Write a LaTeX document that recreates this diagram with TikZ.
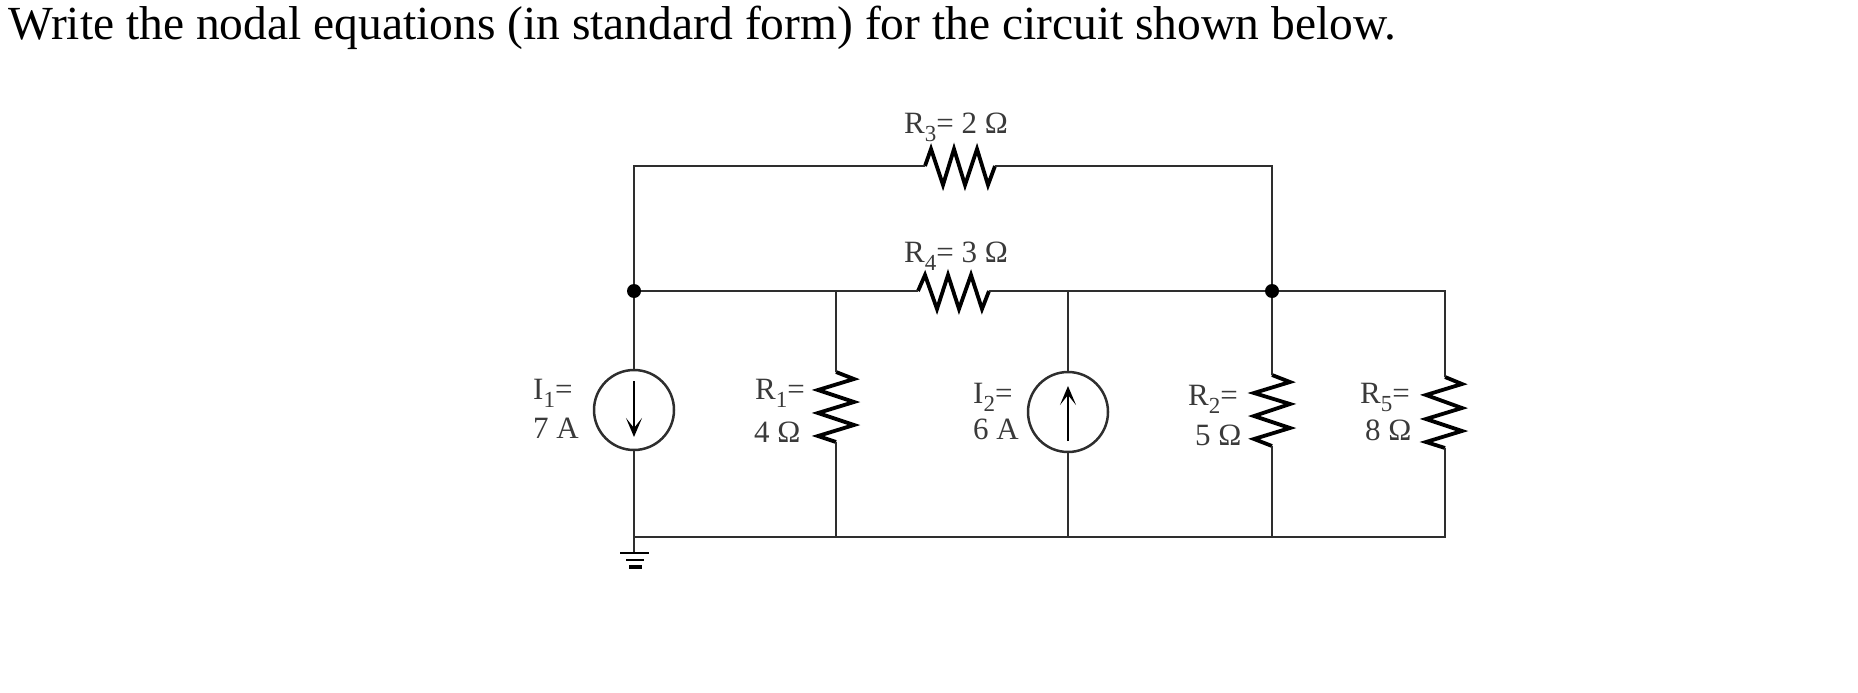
\documentclass[tikz,border=0pt]{standalone}
\usepackage{fontspec}
\setmainfont{Liberation Serif}
\usetikzlibrary{arrows.meta}
\definecolor{wirec}{HTML}{2E2E2E}
\definecolor{labc}{HTML}{3A3A3A}
\tikzset{
  wire/.style={draw=wirec,line width=2.5pt,line join=miter},
  zig/.style={draw=black,line width=3.8pt,line join=miter,miter limit=4},
  src/.style={circle,draw=wirec,line width=2.5pt,minimum size=80pt,inner sep=0pt},
  flow/.style={draw=black,line width=2.5pt,-{Stealth[length=19pt,width=16pt,inset=10pt]}},
  lab/.style={anchor=base west,inner sep=0pt,text=labc,font=\fontsize{31}{31}\selectfont},
  title/.style={anchor=base west,inner sep=0pt,text=black,font=\fontsize{47.5}{47.5}\selectfont},
  dotn/.style={circle,fill=black,inner sep=0pt,minimum size=14pt},
  gbar/.style={draw=black,line width=2.6pt}
}
\newcommand{\sbs}[1]{\raisebox{-0.26em}{\fontsize{23}{23}\selectfont #1}}
\begin{document}
\begin{tikzpicture}[x=1pt,y=-1pt]
\useasboundingbox (0,0) rectangle (1858,693);
\node[title] (ttl) at (8,40) {Write the nodal equations (in standard form) for the circuit shown below.};
% junctions and corners
\coordinate (tl) at (634,166);
\coordinate (tr) at (1272,166);
\node[dotn] (jl) at (634,291) {};
\node[dotn] (jr) at (1272,291) {};
\coordinate (r5t) at (1445,291);
\coordinate (r1t) at (836,291);
\coordinate (i2t) at (1068,291);
\coordinate (bl) at (634,537);
\coordinate (b1) at (836,537);
\coordinate (b2) at (1068,537);
\coordinate (b3) at (1272,537);
\coordinate (b4) at (1445,537);
% sources
\node[src] (s1) at (634,410) {};
\node[src] (s2) at (1068,412) {};
\coordinate (s1a) at (634,381);
\coordinate (s1b) at (634,437);
\coordinate (s2a) at (1068,441);
\coordinate (s2b) at (1068,386);
\draw[flow] (s1a) -- (s1b);
\draw[flow] (s2a) -- (s2b);
% resistor ends
\coordinate (r3a) at (925,166);
\coordinate (r3b) at (995,166);
\coordinate (r4a) at (918,291);
\coordinate (r4b) at (989,291);
\coordinate (r1a) at (836,372);
\coordinate (r1b) at (836,442);
\coordinate (r2a) at (1272,375);
\coordinate (r2b) at (1272,446);
\coordinate (r5a) at (1445,377);
\coordinate (r5b) at (1445,448);
% resistors
\draw[zig] (r3a) -- (931,149) -- (943,185) -- (954,149) -- (965,185) -- (977,149) -- (988,185) -- (r3b);
\draw[zig] (r4a) -- (925,275) -- (937,309) -- (948,275) -- (959,309) -- (971,275) -- (982,309) -- (r4b);
\draw[zig] (r1a) -- (854,379) -- (818,390) -- (854,402) -- (818,413) -- (854,425) -- (818,436) -- (r1b);
\draw[zig] (r2a) -- (1290,382) -- (1254,393) -- (1290,404) -- (1254,416) -- (1290,428) -- (1254,439) -- (r2b);
\draw[zig] (r5a) -- (1462,384) -- (1426,395) -- (1462,408) -- (1426,419) -- (1462,431) -- (1426,442) -- (r5b);
% wires
\draw[wire] (s1.north) -- (jl) -- (tl) -- (r3a);
\draw[wire] (r3b) -- (tr) -- (jr);
\draw[wire] (jl) -- (r4a);
\draw[wire] (r4b) -- (jr) -- (r5t) -- (r5a);
\draw[wire] (r1t) -- (r1a);
\draw[wire] (r1b) -- (b1);
\draw[wire] (i2t) -- (s2.north);
\draw[wire] (s2.south) -- (b2);
\draw[wire] (jr) -- (r2a);
\draw[wire] (r2b) -- (b3);
\draw[wire] (r5b) -- (b4) -- (bl);
\draw[wire] (s1.south) -- (bl);
% ground
\coordinate (g0) at (634,553);
\coordinate (g1a) at (620,553);
\coordinate (g1b) at (649,553);
\coordinate (g2a) at (626,560);
\coordinate (g2b) at (644,560);
\coordinate (g3a) at (629,567);
\coordinate (g3b) at (642,567);
\draw[wire] (bl) -- (g0);
\draw[gbar] (g1a) -- (g1b);
\draw[gbar] (g2a) -- (g2b);
\draw[gbar,line width=3.2pt] (g3a) -- (g3b);
% labels
\node[lab] (li1) at (533,399) {I\sbs{1}=};
\node[lab] (li1v) at (533,438) {7 A};
\node[lab] (lr1) at (755,399) {R\sbs{1}=};
\node[lab] (lr1v) at (754,442) {4 Ω};
\node[lab] (lr3) at (904,133) {R\sbs{3}= 2 Ω};
\node[lab] (lr4) at (904,262) {R\sbs{4}= 3 Ω};
\node[lab] (li2) at (973,403) {I\sbs{2}=};
\node[lab] (li2v) at (973,439) {6 A};
\node[lab] (lr2) at (1188,405) {R\sbs{2}=};
\node[lab] (lr2v) at (1195,445) {5 Ω};
\node[lab] (lr5) at (1360,403) {R\sbs{5}=};
\node[lab] (lr5v) at (1365,440) {8 Ω};
\end{tikzpicture}
\end{document}
